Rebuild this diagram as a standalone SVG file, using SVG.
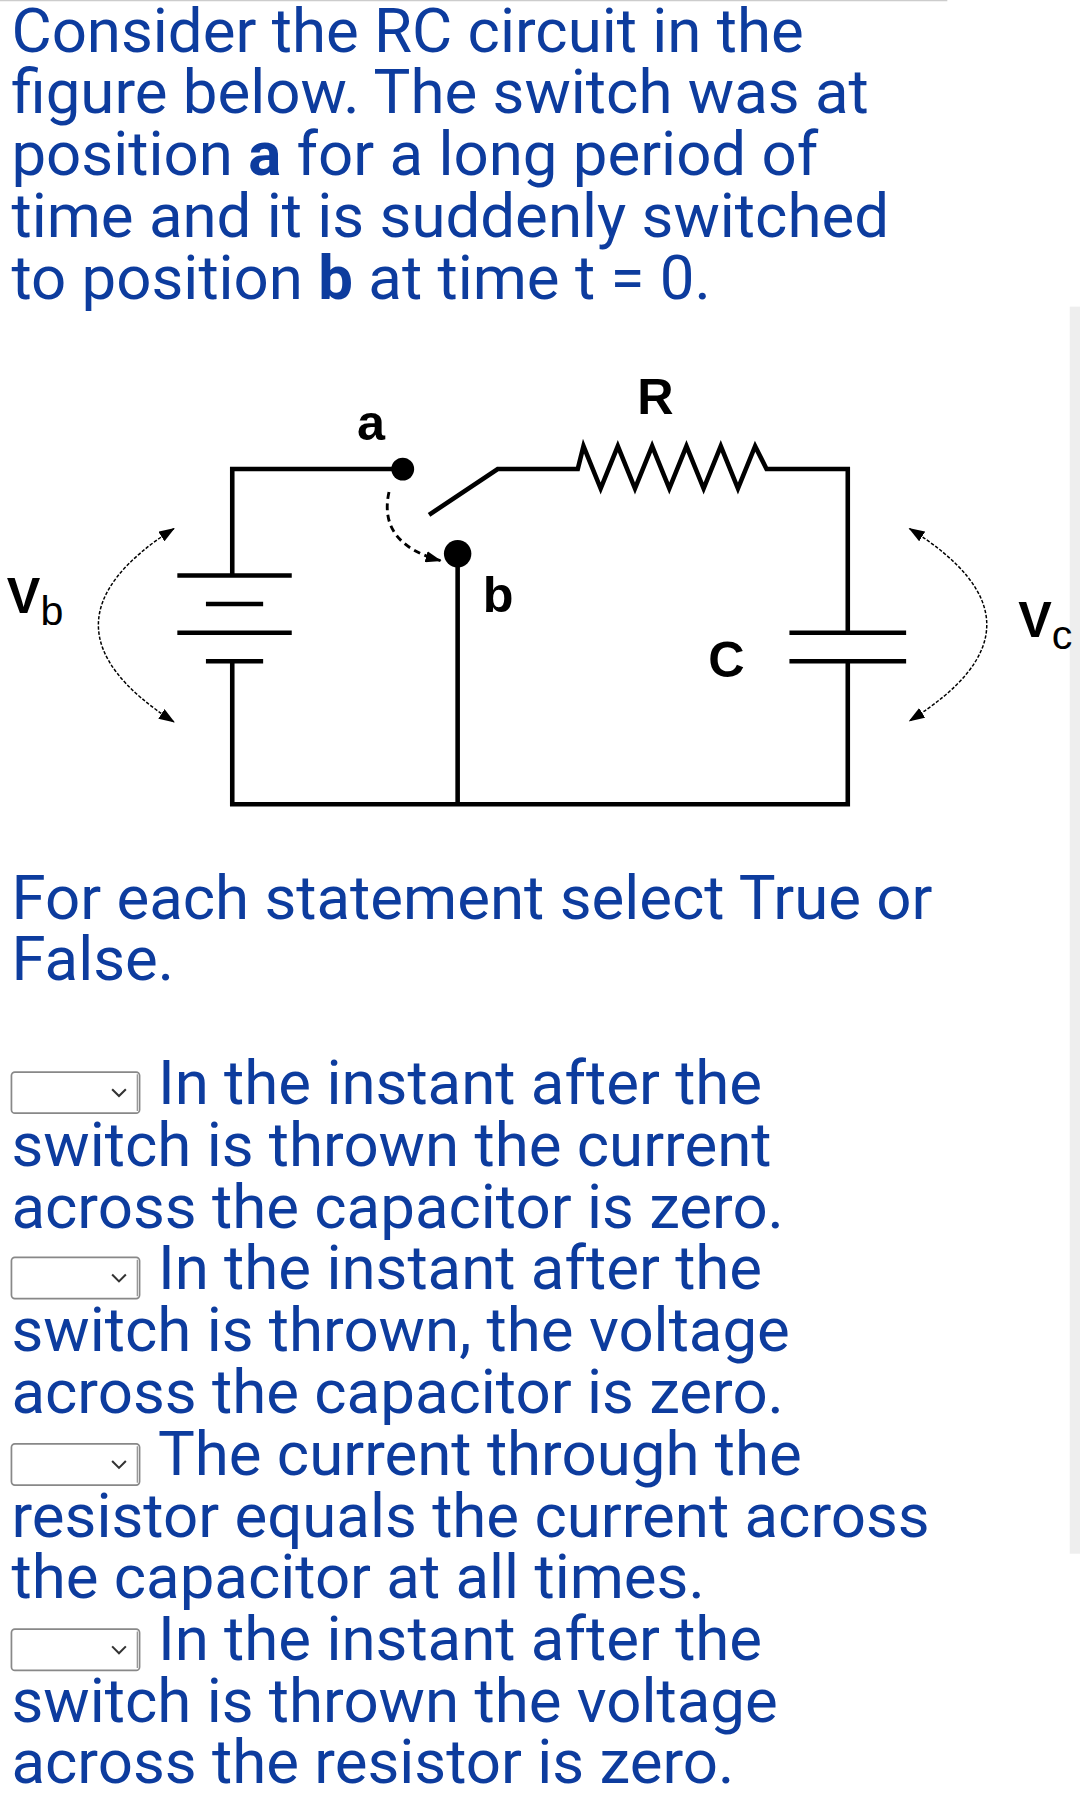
<svg xmlns="http://www.w3.org/2000/svg" width="1080" height="1794" viewBox="0 0 1080 1794">
<style>
.t{font-family:Roboto,"Liberation Sans",sans-serif;font-size:54px;fill:#0d3c9e}
.w{stroke:#000;stroke-width:4;fill:none}
.l{font-family:"Liberation Sans",Arial,sans-serif;font-weight:bold;font-size:44px;fill:#000}
.sel{fill:#fff;stroke:#888;stroke-width:1.5}
.arc{stroke:#000;stroke-width:1.3;fill:none;stroke-dasharray:3,1.5}
</style>
<defs>
<marker id="ah" markerWidth="14" markerHeight="10" refX="13" refY="5" orient="auto" markerUnits="userSpaceOnUse"><path d="M0,0 L14,5 L0,10 z" fill="#000"/></marker>
<marker id="ahs" markerWidth="14" markerHeight="10" refX="1" refY="5" orient="auto" markerUnits="userSpaceOnUse"><path d="M14,0 L0,5 L14,10 z" fill="#000"/></marker>
<g id="chev"><rect class="sel" x="10" y="0" width="112" height="36" rx="3"/><path d="M98,15 L104,21 L110,15" stroke="#333" stroke-width="1.8" fill="none"/><line x1="120" y1="2" x2="120" y2="34" stroke="#888"/></g>
</defs>
<rect width="1080" height="1794" fill="#fff"/>
<g transform="scale(1.1441)">
<line x1="0" y1="0.5" x2="828" y2="0.5" stroke="#ccc"/>
<rect x="935" y="268" width="9" height="1090" fill="#eee"/>
<g id="title">
<text class="t" x="10" y="45">Consider the RC circuit in the</text>
<text class="t" x="10" y="99">figure below. The switch was at</text>
<text class="t" x="10" y="153">position <tspan font-weight="bold">a</tspan> for a long period of</text>
<text class="t" x="10" y="207">time and it is suddenly switched</text>
<text class="t" x="10" y="261">to position <tspan font-weight="bold">b</tspan> at time t = 0.</text>
</g>
<g id="connectors">
<path class="w" d="M352,410 H203 V503 M203,578 V703 H741 V578 M741,553 V410 H680 L670,410 L660,390 L645,427 L630,390 L615,427 L600,390 L585,427 L570,390 L555,427 L540,390 L525,427 L510,390 L505,410 H435 L375,450 M400,485 V703"/>
<path d="M155,503 H255 M180,528 H230 M155,553 H255 M180,578 H230 M690,553 H792 M690,578 H792" stroke="#000" stroke-width="4"/>
<path d="M340,430 Q330,475 385,490" stroke="#000" stroke-width="2.5" fill="none" stroke-dasharray="6,4" marker-end="url(#ah)"/>
<path class="arc" d="M152,462 Q20,546 152,631" marker-start="url(#ahs)" marker-end="url(#ah)"/>
<path class="arc" d="M795,462 Q930,546 795,630" marker-start="url(#ahs)" marker-end="url(#ah)"/>
</g>
<g id="nodes">
<circle cx="352" cy="410" r="10"/>
<circle cx="400" cy="484" r="12"/>
<text class="l" x="312" y="385">a</text>
<text class="l" x="557" y="362">R</text>
<text class="l" x="422" y="535">b</text>
<text class="l" x="619" y="592">C</text>
<text class="l" x="6" y="536">V<tspan font-weight="normal" font-size="36" dy="10">b</tspan></text>
<text class="l" x="890" y="557">V<tspan font-weight="normal" font-size="36" dy="10">c</tspan></text>
</g>
<g id="q">
<text class="t" x="10" y="803">For each statement select True or</text>
<text class="t" x="10" y="857">False.</text>
<use href="#chev" y="937"/>
<text class="t" x="138" y="965">In the instant after the</text>
<text class="t" x="10" y="1019">switch is thrown the current</text>
<text class="t" x="10" y="1073">across the capacitor is zero.</text>
<use href="#chev" y="1099"/>
<text class="t" x="138" y="1127">In the instant after the</text>
<text class="t" x="10" y="1181">switch is thrown, the voltage</text>
<text class="t" x="10" y="1235">across the capacitor is zero.</text>
<use href="#chev" y="1262"/>
<text class="t" x="138" y="1289">The current through the</text>
<text class="t" x="10" y="1343">resistor equals the current across</text>
<text class="t" x="10" y="1397">the capacitor at all times.</text>
<use href="#chev" y="1424"/>
<text class="t" x="138" y="1451">In the instant after the</text>
<text class="t" x="10" y="1505">switch is thrown the voltage</text>
<text class="t" x="10" y="1558">across the resistor is zero.</text>
</g>
</g>
</svg>
